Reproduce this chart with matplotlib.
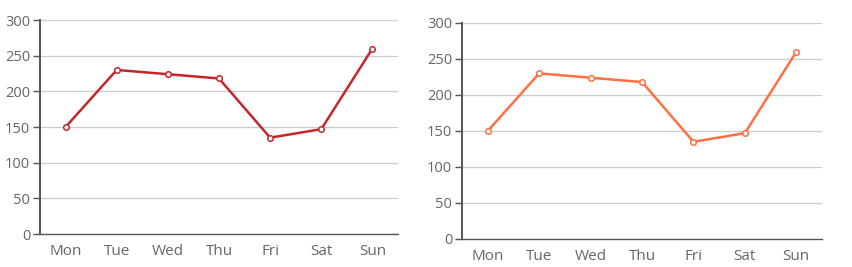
import matplotlib.pyplot as plt

plt.rcParams["font.family"] = ["Open Sans", "DejaVu Sans"]

days = ["Mon", "Tue", "Wed", "Thu", "Fri", "Sat", "Sun"]
values = [150, 230, 224, 218, 135, 147, 260]
y_ticks = [0, 50, 100, 150, 200, 250, 300]
colors = ["#c4272b", "#ff7043"]

fig = plt.figure(figsize=(8.52, 2.67), dpi=100)
axes_boxes = [
    [40 / 852, 1 - 234 / 267, 358 / 852, 214 / 267],
    [462 / 852, 1 - 239 / 267, 360 / 852, 216 / 267],
]


def draw_panel(ax, color):
    x = range(len(days))
    ax.plot(x, values, color=color, lw=1.8, marker="o", ms=4,
            mfc="white", mec=color, mew=1.1, zorder=3, clip_on=False)
    ax.set_xlim(-0.5, len(days) - 0.5)
    ax.set_ylim(0, 300)
    ax.set_yticks(y_ticks)
    ax.set_xticks(list(x))
    ax.set_xticklabels(days)
    ax.grid(axis="y", color="#cccccc", lw=0.9)
    ax.set_axisbelow(True)
    for s in ["top", "right"]:
        ax.spines[s].set_visible(False)
    ax.spines["left"].set_color("#555555")
    ax.spines["bottom"].set_color("#555555")
    ax.spines["left"].set_linewidth(1.4)
    ax.spines["bottom"].set_linewidth(1.0)
    ax.tick_params(axis="y", length=5, width=1.0, color="#555555",
                   labelcolor="#666666", labelsize=10.5, pad=2)
    ax.tick_params(axis="x", length=0, labelcolor="#666666",
                   labelsize=11, pad=7)


for box, c in zip(axes_boxes, colors):
    ax = fig.add_axes(box)
    draw_panel(ax, c)

fig.savefig("out.png", dpi=100)
